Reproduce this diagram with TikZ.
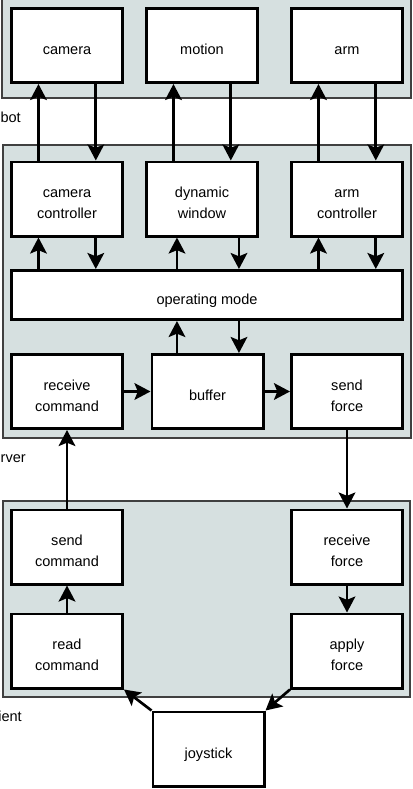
\documentclass[tikz,border=0pt]{standalone}
\usepackage{fontspec}
\setmainfont{Liberation Sans}
\usetikzlibrary{arrows.meta}

\definecolor{groupfill}{RGB}{214,224,224}

\begin{document}
\begin{tikzpicture}[x=0.75pt,y=-0.75pt,
  font=\fontsize{10.9pt}{15.75pt}\selectfont,
  group/.style={fill=groupfill,draw=black!75,line width=1.5pt},
  box/.style={draw,fill=white,line width=2pt,minimum width=83.5pt,
    minimum height=55.75pt,align=center,inner sep=0pt,
    text height=13.9pt,text depth=0pt},
  twoline/.style={box,text height=29.6pt},
  arr/.style={line width=2pt,-{Stealth[length=12pt,width=12.5pt,inset=2.5pt]}},
  grouplabel/.style={anchor=base east,inner sep=0pt}]
  \useasboundingbox (0,0) rectangle (413,789);

  % groups
  \draw[group] (2,-10) rectangle (411,98);
  \draw[group] (3,145) rectangle (411,438);
  \draw[group] (3,501) rectangle (410,697);
  \node[grouplabel] (lrobot) at (21,122) {robot};
  \node[grouplabel] (lserver) at (26,462) {server};
  \node[grouplabel] (lclient) at (22,721) {client};

  % robot
  \node[box] (camera) at (67,45.5) {camera};
  \node[box] (motion) at (202,45.5) {motion};
  \node[box] (arm) at (347,45.5) {arm};

  % server
  \node[twoline] (camctl) at (67,199) {camera\\controller};
  \node[twoline] (dynwin) at (202,199) {dynamic\\window};
  \node[twoline] (armctl) at (347,199) {arm\\controller};
  \node[box,minimum width=293.5pt,minimum height=37pt] (opmode) at (207,295) {operating mode};
  \node[twoline] (rcvcmd) at (67,391.5) {receive\\command};
  \node[box] (buffer) at (207.5,391.5) {buffer};
  \node[twoline] (sendforce) at (347,391.5) {send\\force};

  % client
  \node[twoline] (sendcmd) at (67,547) {send\\command};
  \node[twoline] (rcvforce) at (347,547) {receive\\force};
  \node[twoline] (readcmd) at (67,651) {read\\command};
  \node[twoline] (applyforce) at (347,651) {apply\\force};
  \node[box] (joystick) at (208.5,749) {joystick};

  \foreach \lo/\hi in {camera/camctl,motion/dynwin,arm/armctl}{
    \draw[arr] ([xshift=-21.4pt]\hi.north) -- ([xshift=-21.4pt]\lo.south);
    \draw[arr] ([xshift=21.6pt]\lo.south) -- ([xshift=21.6pt]\hi.north);
  }
  \foreach \ctl in {camctl,armctl}{
    \draw[arr] ([xshift=-21.4pt]\ctl.south |- opmode.north) -- ([xshift=-21.4pt]\ctl.south);
    \draw[arr] ([xshift=21.6pt]\ctl.south) -- ([xshift=21.6pt]\ctl.south |- opmode.north);
  }
  \draw[arr] ([xshift=-22.9pt]buffer.north |- opmode.north) -- ([xshift=-22.9pt]buffer.north |- dynwin.south);
  \draw[arr] ([xshift=23.6pt]buffer.north |- dynwin.south) -- ([xshift=23.6pt]buffer.north |- opmode.north);
  \draw[arr] ([xshift=-22.9pt]buffer.north) -- ([xshift=-22.9pt]buffer.north |- opmode.south);
  \draw[arr] ([xshift=23.6pt]buffer.north |- opmode.south) -- ([xshift=23.6pt]buffer.north);

  \draw[arr] (rcvcmd) -- (buffer);
  \draw[arr] (buffer) -- (sendforce);
  \draw[arr] (sendcmd) -- (rcvcmd);
  \draw[arr] (sendforce) -- (rcvforce);
  \draw[arr] (readcmd) -- (sendcmd);
  \draw[arr] (rcvforce) -- (applyforce);
  \draw[arr] (joystick.north west) -- (readcmd.south east);
  \draw[arr] (applyforce.south west) -- (joystick.north east);
\end{tikzpicture}
\end{document}
